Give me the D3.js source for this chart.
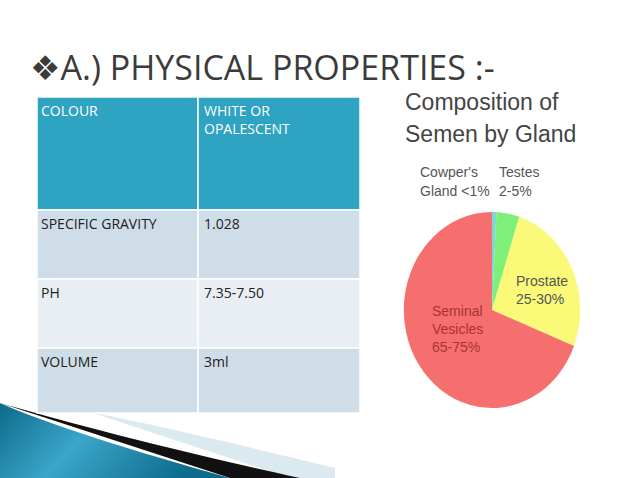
<!DOCTYPE html>
<html><head><meta charset="utf-8">
<script src="https://cdn.jsdelivr.net/npm/d3@7"></script>
<style>body{margin:0;background:#fff}</style>
</head><body><svg id="c" width="638" height="478"></svg>
<script>
// table rows
var props = ["COLOUR", "SPECIFIC GRAVITY", "PH", "VOLUME"];
var vals = [["WHITE OR", "OPALESCENT"], ["1.028"], ["7.35-7.50"], ["3ml"]];
// pie
var glands = ["Cowper's", "Testes", "Prostate", "Seminal"];
var shares = [0.8, 4.2, 26, 69];
var colors = ["#7fd6d6", "#7ef07a", "#fafa78", "#f56f6f"];

var svg = d3.select("#c");
var f = "'Open Sans', 'DejaVu Sans', sans-serif";

// bottom-left swoosh
var grad = svg.append("defs").append("linearGradient").attr("id", "bl").attr("x1", 0).attr("x2", 1).attr("y1", 0).attr("y2", 0.3);
grad.append("stop").attr("offset", 0).attr("stop-color", "#0e6a8a");
grad.append("stop").attr("offset", 0.45).attr("stop-color", "#3aa6c8");
grad.append("stop").attr("offset", 1).attr("stop-color", "#0d6b8c");
svg.append("path").attr("d", "M90,412 C180,430 260,450 335,468 L335,478 L290,478 Z").attr("fill", "#dbe9f0");
svg.append("path").attr("d", "M0,403 C60,420 150,445 300,478 L230,478 Z").attr("fill", "#111");
svg.append("path").attr("d", "M0,403 C50,425 130,450 230,478 L0,478 Z").attr("fill", "url(#bl)");

svg.append("text").attr("x", 30).attr("y", 80).attr("font-family", f).attr("font-size", 34)
  .attr("fill", "#3b3b3b").text("\u2756A.) PHYSICAL PROPERTIES :-");

var rowY = [97, 210, 279, 348, 413];
var rowFill = ["#2ea3c2", "#cfdde8", "#e8eef3", "#cfdde8"];
var x0 = 37, x1 = 198, x2 = 360;
props.forEach(function (p, i) {
  var y = rowY[i], h = rowY[i + 1] - y, tc = i === 0 ? "#fff" : "#222";
  [[x0, x1], [x1, x2]].forEach(function (c) {
    svg.append("rect").attr("x", c[0]).attr("y", y).attr("width", c[1] - c[0]).attr("height", h)
      .attr("fill", rowFill[i]).attr("stroke", "#fff").attr("stroke-width", 1.5);
  });
  svg.append("text").attr("x", x0 + 4).attr("y", y + 19).attr("font-family", f).attr("font-size", 14)
    .attr("fill", tc).text(p);
  vals[i].forEach(function (v, k) {
    svg.append("text").attr("x", x1 + 6).attr("y", y + 19 + k * 18).attr("font-family", f).attr("font-size", 14)
      .attr("fill", tc).text(v);
  });
});

// pie chart
var af = "'Liberation Sans', Arial, sans-serif";
svg.append("text").attr("x", 405).attr("y", 110).attr("font-family", af).attr("font-size", 23).attr("fill", "#444").text("Composition of");
svg.append("text").attr("x", 405).attr("y", 142).attr("font-family", af).attr("font-size", 23).attr("fill", "#444").text("Semen by Gland");
[["Cowper's", 420, 177], ["Gland <1%", 420, 196], ["Testes", 499, 177], ["2-5%", 499, 196]].forEach(function (t) {
  svg.append("text").attr("x", t[1]).attr("y", t[2]).attr("font-family", af).attr("font-size", 14).attr("fill", "#555").text(t[0]);
});

var pie = d3.pie().sort(null)(shares);
var arc = d3.arc().innerRadius(0).outerRadius(98);
var g = svg.append("g").attr("transform", "translate(492,310) scale(0.9,1)");
g.selectAll("path").data(pie).join("path").attr("d", arc).attr("fill", function (d, i) { return colors[i]; });

[["Prostate", 516, 286], ["25-30%", 516, 304], ["Seminal", 432, 316], ["Vesicles", 432, 334], ["65-75%", 432, 352]].forEach(function (t, i) {
  svg.append("text").attr("x", t[1]).attr("y", t[2]).attr("font-family", af).attr("font-size", 14)
    .attr("fill", i < 2 ? "#555" : "#a33").text(t[0]);
});
</script></body></html>
